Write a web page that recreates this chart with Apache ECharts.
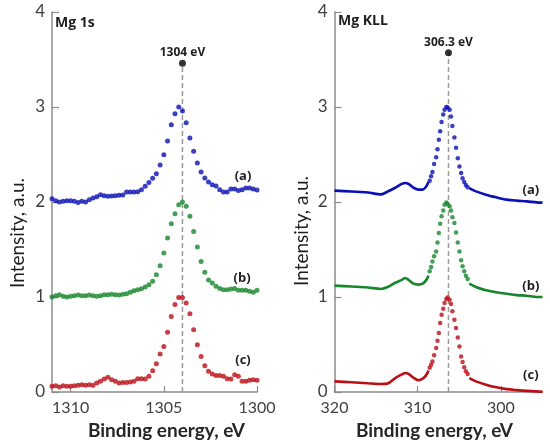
<!DOCTYPE html>
<html><head><meta charset="utf-8">
<script src="https://cdn.jsdelivr.net/npm/echarts@6/dist/echarts.min.js"></script>
<style>html,body{margin:0;padding:0;background:#fff}#c{width:550px;height:447px}</style>
</head><body><div id="c"></div>
<script>
// ---- Mg 1s panel (binding energy, eV) ----
const mg1sEnergy = [1311.0,1310.8,1310.6,1310.4,1310.2,1310.0,1309.8,1309.6,1309.4,1309.2,
  1309.0,1308.8,1308.6,1308.4,1308.2,1308.0,1307.8,1307.6,1307.4,1307.2,
  1307.0,1306.8,1306.6,1306.4,1306.2,1306.0,1305.8,1305.6,1305.4,1305.2,
  1305.0,1304.8,1304.6,1304.4,1304.2,1304.0,1303.8,1303.6,1303.4,1303.2,
  1303.0,1302.8,1302.6,1302.4,1302.2,1302.0,1301.8,1301.6,1301.4,1301.2,
  1301.0,1300.8,1300.6,1300.4,1300.2,1300.0];
const mg1sA = [2.035,2.014,2.0,2.007,2.014,2.014,2.007,1.996,2.007,2.0,
  2.025,2.042,2.056,2.077,2.067,2.06,2.063,2.067,2.07,2.074,
  2.105,2.105,2.105,2.109,2.13,2.165,2.204,2.25,2.298,2.39,
  2.498,2.642,2.814,2.93,3.0,2.958,2.835,2.674,2.533,2.41,
  2.316,2.253,2.21,2.182,2.168,2.13,2.105,2.105,2.137,2.137,
  2.12,2.13,2.147,2.147,2.137,2.126];
const mg1sB = [1.0,1.014,1.025,1.007,1.0,1.007,1.014,1.02,1.014,1.014,
  1.02,1.014,1.007,1.014,1.025,1.025,1.03,1.025,1.02,1.03,
  1.035,1.05,1.067,1.077,1.088,1.105,1.13,1.165,1.235,1.33,
  1.463,1.62,1.77,1.877,1.97,2.0,1.954,1.85,1.69,1.526,
  1.375,1.26,1.18,1.147,1.112,1.09,1.077,1.077,1.084,1.09,
  1.07,1.07,1.07,1.06,1.05,1.07];
const mg1sC = [0.06,0.067,0.053,0.067,0.06,0.06,0.067,0.07,0.077,0.07,
  0.077,0.07,0.095,0.112,0.137,0.154,0.13,0.112,0.095,0.1,
  0.1,0.105,0.112,0.14,0.14,0.137,0.165,0.225,0.298,0.4,
  0.48,0.628,0.796,0.92,0.996,0.996,0.937,0.825,0.656,0.498,
  0.375,0.277,0.218,0.19,0.175,0.175,0.165,0.14,0.137,0.182,
  0.165,0.112,0.112,0.123,0.13,0.123];

// ---- Mg KLL panel (binding energy, eV) ----
const kllLeftEnergy = [320.0,318.0,316.0,314.4,313.6,312.7,311.9,311.5,311.1,310.5,309.9,309.4,309.0,308.7];
const kllPeakEnergy = [308.56,308.39,308.23,308.03,307.78,307.62,307.46,307.30,307.13,306.93,306.77,306.56,306.40,
  306.16,306.00,305.83,305.59,305.39,305.18,304.98,304.78,304.61,304.41,304.21,304.00];
const kllRightEnergy = [303.8,303.0,301.8,300.55,299.3,298.1,296.9,295.7,295.0];

const kllA_left  = [2.12,2.11,2.10,2.08,2.11,2.15,2.19,2.20,2.19,2.15,2.13,2.13,2.16,2.21];
const kllA_peak  = [2.225,2.27,2.316,2.40,2.47,2.554,2.656,2.744,2.842,2.92,2.97,3.0,2.996,
  2.97,2.90,2.80,2.68,2.57,2.46,2.375,2.305,2.25,2.21,2.18,2.155];
const kllA_right = [2.147,2.112,2.077,2.049,2.025,2.014,2.007,1.996,1.993];

const kllB_left  = [1.12,1.11,1.10,1.085,1.105,1.15,1.18,1.20,1.18,1.14,1.13,1.14,1.175,1.225];
const kllB_peak  = [1.27,1.316,1.375,1.43,1.48,1.575,1.674,1.77,1.85,1.91,1.97,1.996,1.98,
  1.954,1.91,1.84,1.78,1.68,1.575,1.48,1.386,1.323,1.27,1.225,1.19];
const kllB_right = [1.14,1.105,1.07,1.05,1.035,1.02,1.014,1.0,1.0];

const kllC_left  = [0.112,0.103,0.092,0.085,0.09,0.147,0.185,0.20,0.19,0.15,0.123,0.14,0.175,0.225];
const kllC_peak  = [0.255,0.288,0.32,0.386,0.463,0.54,0.62,0.726,0.814,0.877,0.937,0.98,0.996,
  0.97,0.926,0.85,0.76,0.674,0.575,0.48,0.375,0.316,0.26,0.218,0.19];
const kllC_right = [0.147,0.112,0.077,0.049,0.03,0.02,0.012,0.007,0.002];

// ticks, markers and curve tags
const xTicksLeft = [1300,1305,1310];
const xTicksRight = [300,310,320];
const mg1sMarker = [1304, 3.46];
const kllMarker = [306.3, 3.57];
const mg1sMarkerText = '1304 eV';
const kllMarkerText = '306.3 eV';
const curveTags = ['(a)', '(b)', '(c)'];

const BLUE = '#0a10b4', GREEN = '#15862b', RED = '#bb0e16';
const zip = (xs, ys) => xs.map((x, i) => [x, ys[i]]);
const axisGray = '#8c8c8c';
const FONT = 'Lato';

function xAxis(idx, min, max, ticks, padding) {
  return {
    gridIndex: idx, type: 'value', min, max, inverse: true,
    axisLine: { show: true, onZero: false, lineStyle: { color: axisGray, width: 1.5 } },
    axisTick: { show: true, inside: true, length: 6, customValues: ticks, lineStyle: { color: axisGray, width: 1.2 } },
    axisLabel: { customValues: ticks, fontSize: 16, color: '#404040', margin: 8, fontFamily: FONT,
      formatter: v => String(v) },
    splitLine: { show: false },
    name: 'Binding energy, eV', nameLocation: 'middle', nameGap: 26,
    nameTextStyle: { fontWeight: 'bold', fontSize: 19, color: '#262626', fontFamily: FONT, padding }
  };
}
function yAxis(idx) {
  return {
    gridIndex: idx, type: 'value', min: 0, max: 4, interval: 1,
    axisLine: { show: true, lineStyle: { color: axisGray, width: 1.5 } },
    axisTick: { show: true, inside: true, length: 7, lineStyle: { color: axisGray, width: 1.2 } },
    axisLabel: { fontSize: 17, color: '#404040', margin: 7, fontFamily: FONT },
    splitLine: { show: false }
  };
}
function dots(idx, xs, ys, color, size) {
  return { type: 'scatter', xAxisIndex: idx, yAxisIndex: idx, data: zip(xs, ys),
    symbolSize: size, itemStyle: { color }, z: 3, silent: true };
}
function line(idx, xs, ys, color) {
  return { type: 'line', xAxisIndex: idx, yAxisIndex: idx, data: zip(xs, ys),
    showSymbol: false, smooth: 0.3, lineStyle: { color, width: 2.6 }, z: 3, silent: true };
}
function marker(idx, m) {
  return [
    { type: 'line', xAxisIndex: idx, yAxisIndex: idx, data: [[m[0], 0], [m[0], m[1]]],
      showSymbol: false, lineStyle: { color: '#9a9a9a', width: 1.5, type: [5, 3] }, z: 2, silent: true },
    { type: 'scatter', xAxisIndex: idx, yAxisIndex: idx, data: [m], symbolSize: 7,
      itemStyle: { color: '#000' }, z: 4, silent: true }
  ];
}

const chart = echarts.init(document.getElementById('c'), null, { renderer: 'canvas' });
chart.setOption({
  animation: false,
  backgroundColor: '#fff',
  grid: [
    { left: 52, top: 12, width: 205, height: 380 },
    { left: 334.5, top: 12, width: 208, height: 380 }
  ],
  xAxis: [xAxis(0, 1300, 1311, xTicksLeft, [0, 0, 0, 24]), xAxis(1, 295, 320, xTicksRight, [0, 8, 0, 0])],
  yAxis: [yAxis(0), yAxis(1)],
  series: [
    ...marker(0, mg1sMarker),
    ...marker(1, kllMarker),
    dots(0, mg1sEnergy, mg1sA, BLUE, 5),
    dots(0, mg1sEnergy, mg1sB, GREEN, 5),
    dots(0, mg1sEnergy, mg1sC, RED, 5),
    line(1, kllLeftEnergy, kllA_left, BLUE),
    dots(1, kllPeakEnergy, kllA_peak, BLUE, 4.5),
    line(1, kllRightEnergy, kllA_right, BLUE),
    line(1, kllLeftEnergy, kllB_left, GREEN),
    dots(1, kllPeakEnergy, kllB_peak, GREEN, 4.5),
    line(1, kllRightEnergy, kllB_right, GREEN),
    line(1, kllLeftEnergy, kllC_left, RED),
    dots(1, kllPeakEnergy, kllC_peak, RED, 4.5),
    line(1, kllRightEnergy, kllC_right, RED)
  ]
});

// text annotations anchored in data coordinates
const px = (g, p) => chart.convertToPixel({ gridIndex: g }, p);
const txt = (p, text, font, align, vAlign, rot) => ({
  type: 'text', x: p[0], y: p[1], rotation: rot || 0, silent: true, z: 10,
  style: { text, font, fill: '#1e1e1e', align: align || 'center', verticalAlign: vAlign || 'middle' }
});
const m1 = px(0, mg1sMarker), m2 = px(1, kllMarker);
const tagFont = "bold 13px 'Open Sans'";
const markFont = "bold 12px 'Open Sans'";
chart.setOption({
  graphic: [
    txt([18, 233], 'Intensity, a.u.', '19px Lato', 'center', 'middle', Math.PI / 2),
    txt([302, 231], 'Intensity, a.u.', '19px Lato', 'center', 'middle', Math.PI / 2),
    txt([55, 23], 'Mg 1s', "bold 14px 'Open Sans'", 'left'),
    txt([338, 21], 'Mg KLL', "bold 14px 'Open Sans'", 'left'),
    txt([m1[0], m1[1] - 11], mg1sMarkerText, markFont),
    txt([m2[0], m2[1] - 10], kllMarkerText, markFont),
    txt(px(0, [1300.75, 2.27]), curveTags[0], tagFont),
    txt(px(0, [1300.8, 1.2]), curveTags[1], tagFont),
    txt(px(0, [1300.75, 0.337]), curveTags[2], tagFont),
    txt(px(1, [296.4, 2.12]), curveTags[0], tagFont),
    txt(px(1, [296.4, 1.11]), curveTags[1], tagFont),
    txt(px(1, [296.4, 0.18]), curveTags[2], tagFont)
  ]
});
</script>
</body></html>
